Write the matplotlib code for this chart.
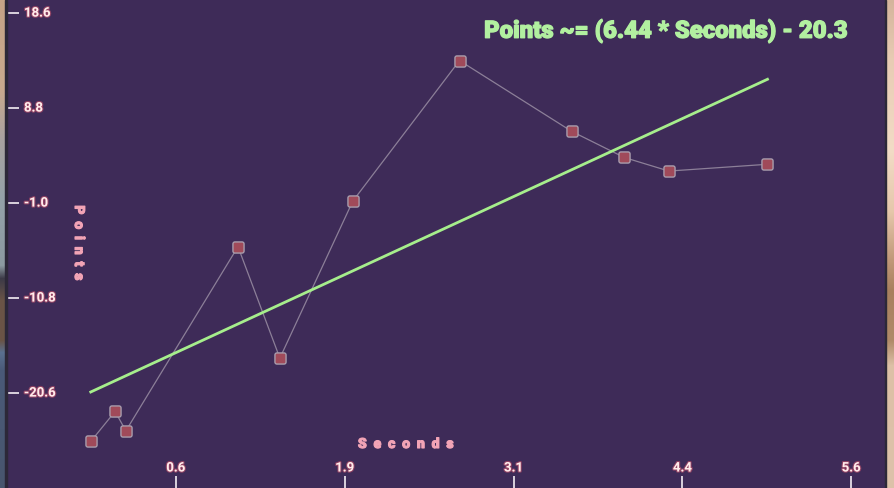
import numpy as np
import matplotlib
matplotlib.use("Agg")
import matplotlib.pyplot as plt
import matplotlib.colors as mcolors
import matplotlib.patheffects as pe
from matplotlib.path import Path

# === Data ===
seconds = [-0.03, 0.15, 0.23, 1.06, 1.37, 1.91, 2.70, 3.53, 3.92, 4.25, 4.98]
points = [-25.6, -22.5, -24.5, -5.5, -17.0, -0.8, 13.7, 6.4, 3.7, 2.3, 3.0]

slope = 6.44
intercept = -20.3
fit_label = "Points ~= (6.44 * Seconds) - 20.3"

x_ticks = [0.6, 1.85, 3.1, 4.35, 5.6]
x_tick_labels = ["0.6", "1.9", "3.1", "4.4", "5.6"]
y_ticks = [18.6, 8.8, -1.0, -10.8, -20.6]
y_tick_labels = ["18.6", "8.8", "-1.0", "-10.8", "-20.6"]

X_LIM = (-0.65, 5.85)
Y_LIM = (-30.4, 19.95)

# === Style ===
BG = "#3e2b58"
LINE_GREEN = "#a6ee8c"
TITLE_GREEN = "#b2f0a0"
MARKER_FILL = "#a04a5a"
MARKER_EDGE = "#a89cac"
CONNECT = "#8c7f98"
TICK_TEXT = "#ffecec"
AXIS_LABEL = "#f2a4b6"
FONT = ["Roboto", "DejaVu Sans"]

W, H = 894, 488

# photo edges visible at both sides of the screenshot
LEFT_STOPS = [(0, "#c6a486"), (90, "#c8aa8e"), (140, "#a8a2a0"), (200, "#94a2a8"),
              (265, "#8c9aa0"), (278, "#3c3a48"), (300, "#6a5446"), (340, "#6a5446"),
              (352, "#5a7090"), (370, "#4a5a78"), (488, "#48566e")]
RIGHT_STOPS = [(0, "#d4b49c"), (60, "#e8ccb4"), (150, "#f2dcc6"), (210, "#e6c8ac"),
               (260, "#c09878"), (290, "#a8805e"), (340, "#b08a68"), (365, "#dcc0a6"),
               (488, "#dcc2aa")]


def strip_image(stops):
    ys = np.arange(H)
    pos = [s[0] for s in stops]
    rgb = np.array([mcolors.to_rgb(s[1]) for s in stops])
    img = np.stack([np.interp(ys, pos, rgb[:, i]) for i in range(3)], axis=-1)
    return img[:, None, :]


def rounded_square(r=0.35, n=6):
    verts = []
    corners = [(1 - r, 1 - r, 0), (-1 + r, 1 - r, 90), (-1 + r, -1 + r, 180), (1 - r, -1 + r, 270)]
    for cx, cy, a0 in corners:
        for t in np.radians(np.linspace(a0, a0 + 90, n)):
            verts.append((cx + r * np.cos(t), cy + r * np.sin(t)))
    verts.append(verts[0])
    return Path(verts, closed=True)


def main():
    fig = plt.figure(figsize=(W / 100, H / 100), dpi=100)
    fig.patch.set_facecolor(BG)

    for stops, x0, w in [(LEFT_STOPS, 0, 5), (RIGHT_STOPS, 886, 8)]:
        sa = fig.add_axes([x0 / W, 0, w / W, 1])
        sa.imshow(strip_image(stops), aspect="auto", interpolation="bilinear")
        sa.axis("off")
    fig.patches.append(plt.Rectangle((5 / W, 0), 2 / W, 1, transform=fig.transFigure,
                                     color="#2c2838", zorder=5))
    fig.patches.append(plt.Rectangle((885 / W, 0), 1 / W, 1, transform=fig.transFigure,
                                     color="#2c2838", zorder=5))

    ax = fig.add_axes([7 / W, 0, 878 / W, 1])
    ax.set_facecolor(BG)
    ax.set_xlim(*X_LIM)
    ax.set_ylim(*Y_LIM)
    for s in ax.spines.values():
        s.set_visible(False)

    # ticks inside, labels drawn as text inside the plot
    ax.set_xticks(x_ticks)
    ax.set_yticks(y_ticks)
    ax.tick_params(axis="both", direction="in", length=8.5, width=1.2, color="#f4eef4",
                   labelleft=False, labelbottom=False)

    outline = [pe.withStroke(linewidth=1.6, foreground="#d4566e", alpha=0.55)]
    for yv, lab in zip(y_ticks, y_tick_labels):
        ax.text(17 / 878, yv, lab, transform=ax.get_yaxis_transform(), ha="left",
                va="center", fontsize=9.5, fontweight="bold", color=TICK_TEXT,
                family=FONT, path_effects=outline)
    for xv, lab in zip(x_ticks, x_tick_labels):
        ax.text(xv, 20 / H, lab, transform=ax.get_xaxis_transform(), ha="center",
                va="center", fontsize=9.5, fontweight="bold", color=TICK_TEXT,
                family=FONT, path_effects=outline)

    # axis labels (letter spaced)
    label_fx = [pe.withStroke(linewidth=0.8, foreground=AXIS_LABEL)]
    ax.text(399 / 878, 44 / H, "  ".join("Seconds"), transform=ax.transAxes,
            ha="center", va="center", fontsize=10, fontweight="black",
            color=AXIS_LABEL, family=FONT, path_effects=label_fx)
    ax.text(72 / 878, 1 - 243 / H, "  ".join("Points"), transform=ax.transAxes,
            ha="center", va="center", rotation=-90, fontsize=10, fontweight="black",
            color=AXIS_LABEL, family=FONT, path_effects=label_fx)

    # data: thin connector + rounded square markers
    ax.plot(seconds, points, color=CONNECT, lw=0.9, zorder=2)
    ax.plot(seconds, points, linestyle="none", marker=rounded_square(), markersize=8,
            markerfacecolor=MARKER_FILL, markeredgecolor=MARKER_EDGE,
            markeredgewidth=1.0, zorder=4)

    # regression line across the data range
    fx = np.array([min(seconds), max(seconds)])
    ax.plot(fx, slope * fx + intercept, color=LINE_GREEN, lw=2, zorder=3)

    ax.text(841 / 878, 1 - 31 / H, fit_label, transform=ax.transAxes, ha="right",
            va="center", fontsize=17.2, fontweight="black", color=TITLE_GREEN, family=FONT,
            path_effects=[pe.withStroke(linewidth=0.9, foreground=TITLE_GREEN)])

    fig.savefig("out.png", dpi=100, facecolor=fig.get_facecolor())


if __name__ == "__main__":
    main()
